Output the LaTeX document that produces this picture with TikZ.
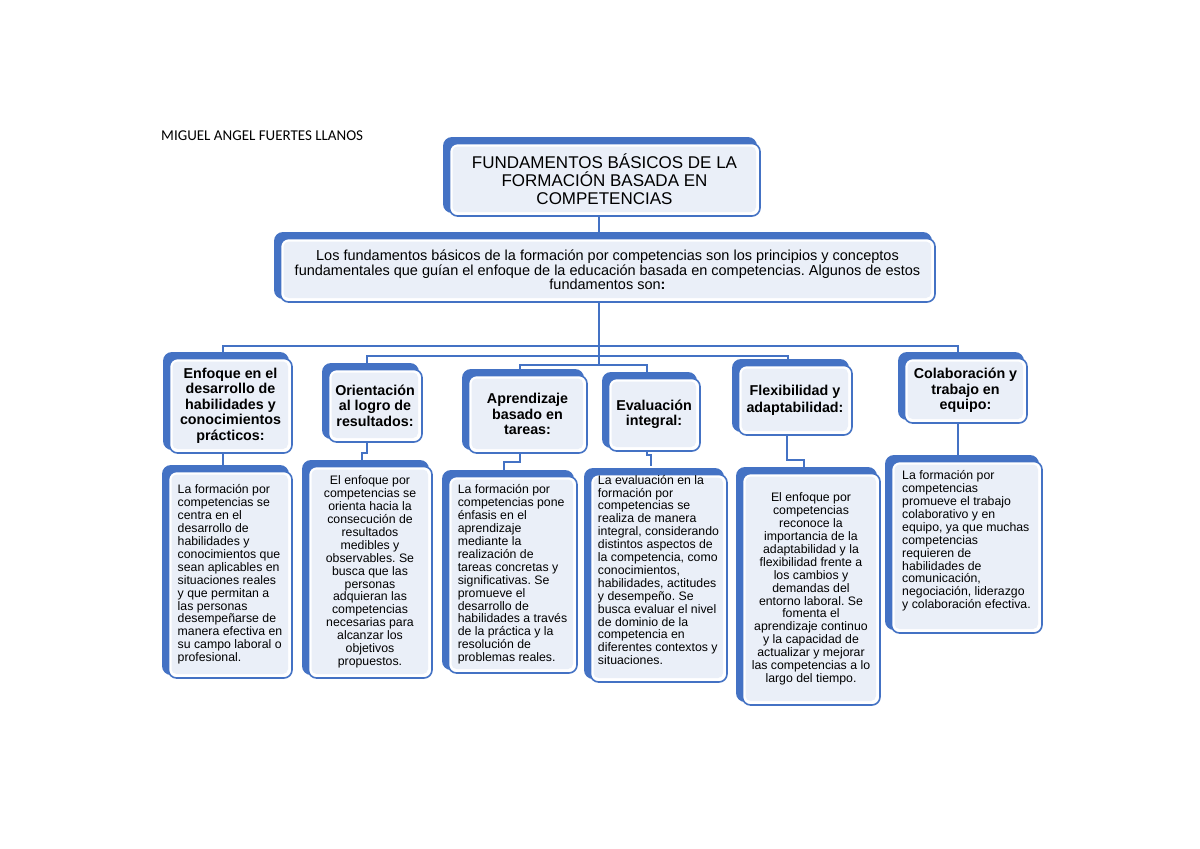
\documentclass[tikz,border=0pt]{standalone}
\usepackage{fontspec}
\setmainfont{Liberation Sans}
\newfontfamily\namefont{Carlito}
\frenchspacing
\definecolor{bblue}{HTML}{4472C4}
\definecolor{lfill}{HTML}{EAEFF8}
\newcommand{\deco}[4]{%
  \fill[bblue, rounded corners=9pt] (#1,#2) rectangle (#3-3,#4-3);
  \draw[bblue, fill=white, line width=1.6pt, rounded corners=8pt] (#1+6.5,#2+6.5) rectangle (#3,#4);
  \fill[lfill, rounded corners=5pt] (#1+9.5,#2+9.5) rectangle (#3-4,#4-4);
}
\newcommand{\bx}[7]{%
  \deco{#2}{#3}{#4}{#5}
  \node[minimum width={#4-#2-6}, minimum height={#5-#3-6}, #6] (#1) at ({(#2+6+#4)/2},{(#3+6+#5)/2}) {#7};
}
\tikzset{
  base/.style={inner sep=0pt, outer sep=0pt, rectangle},
  topbox/.style={base, align=center, font=\fontsize{17}{18}\selectfont},
  mainbox/.style={base, align=center, font=\fontsize{14.5}{14.7}\selectfont},
  headbox/.style={base, align=center, font=\fontsize{14.3}{15.5}\selectfont\bfseries},
  descl/.style={base, align=left, font=\fontsize{12.3}{12.9}\selectfont},
  descc/.style={base, align=center, font=\fontsize{12.3}{12.9}\selectfont},
  conn/.style={draw=bblue, line width=1.6pt},
}
\begin{document}
\begin{tikzpicture}[x=1pt, y=-1pt]
\fill[white] (0,0) rectangle (1200,849);
\useasboundingbox (0,0) rectangle (1200,849);

\node[anchor=base west, inner sep=0pt, font=\namefont\fontsize{15}{16}\selectfont] (author) at (161,140) {MIGUEL ANGEL FUERTES LLANOS};

\bx{top}{443}{137}{760}{216}{topbox}{FUNDAMENTOS BÁSICOS DE LA\\FORMACIÓN BASADA EN\\COMPETENCIAS}
\bx{main}{274}{232}{935}{302}{mainbox}{Los fundamentos básicos de la formación por competencias son los principios y conceptos\\fundamentales que guían el enfoque de la educación basada en competencias. Algunos de estos\\fundamentos son\textbf{:}}

\bx{h1}{163}{352}{292}{453}{headbox}{Enfoque en el\\desarrollo de\\habilidades y\\conocimientos\\prácticos:}
\bx{h2}{322}{363}{422}{442}{headbox}{Orientación\\al logro de\\resultados:}
\bx{h3}{462}{369}{587}{453}{headbox}{Aprendizaje\\basado en\\tareas:}
\bx{h4}{602}{372}{700}{451}{headbox}{Evaluación\\integral:}
\bx{h5}{732}{359}{852}{435}{headbox}{Flexibilidad y\\[1.5pt]adaptabilidad:}
\bx{h6}{898}{352}{1027}{423}{headbox}{Colaboración y\\trabajo en\\equipo:}

\bx{d1}{162}{465}{292}{678}{descl}{La formación por\\competencias se\\centra en el\\desarrollo de\\habilidades y\\conocimientos que\\sean aplicables en\\situaciones reales\\y que permitan a\\las personas\\desempeñarse de\\manera efectiva en\\su campo laboral o\\profesional.}
\bx{d2}{302}{460}{432}{678}{descc}{El enfoque por\\competencias se\\orienta hacia la\\consecución de\\resultados\\medibles y\\observables. Se\\busca que las\\personas\\adquieran las\\competencias\\necesarias para\\alcanzar los\\objetivos\\propuestos.}
\bx{d3}{442}{470}{577}{673}{descl}{La formación por\\competencias pone\\énfasis en el\\aprendizaje\\mediante la\\realización de\\tareas concretas y\\significativas. Se\\promueve el\\desarrollo de\\habilidades a través\\de la práctica y la\\resolución de\\problemas reales.}
\bx{d4}{584}{468}{727}{682}{descl, yshift=8pt}{La evaluación en la\\formación por\\competencias se\\realiza de manera\\integral, considerando\\distintos aspectos de\\la competencia, como\\conocimientos,\\habilidades, actitudes\\y desempeño. Se\\busca evaluar el nivel\\de dominio de la\\competencia en\\diferentes contextos y\\situaciones.}
\bx{d5}{736}{467}{880}{705}{descc}{El enfoque por\\competencias\\reconoce la\\importancia de la\\adaptabilidad y la\\flexibilidad frente a\\los cambios y\\demandas del\\entorno laboral. Se\\fomenta el\\aprendizaje continuo\\y la capacidad de\\actualizar y mejorar\\las competencias a lo\\largo del tiempo.}
\bx{d6}{885}{455}{1042}{633}{descl, yshift=6pt}{La formación por\\competencias\\promueve el trabajo\\colaborativo y en\\equipo, ya que muchas\\competencias\\requieren de\\habilidades de\\comunicación,\\negociación, liderazgo\\y colaboración efectiva.}

% connectors
\coordinate (tx) at (599,0);
\draw[conn] (top.south -| tx) -- (main.north -| tx);
\coordinate (b1) at (223,346);
\coordinate (b6) at (958,346);
\coordinate (b2) at (367,356);
\coordinate (b5) at (788,356);
\coordinate (b3) at (520,365);
\coordinate (b4) at (647,365);
\draw[conn] (main.south -| tx) |- (b1) -- (b1 |- h1.north);
\draw[conn] (main.south -| tx) |- (b6) -- (b6 |- h6.north);
\draw[conn] (main.south -| tx) |- (b2) -- (b2 |- h2.north);
\draw[conn] (main.south -| tx) |- (b5) -- (b5 |- h5.north);
\draw[conn] (main.south -| tx) |- (b3) -- (b3 |- h3.north);
\draw[conn] (main.south -| tx) |- (b4) -- (b4 |- h4.north);

\coordinate (e1) at (223,0);
\draw[conn] (h1.south -| e1) -- (d1.north -| e1);
\coordinate (e2a) at (367,0);
\coordinate (e2b) at (362,453);
\draw[conn] (h2.south -| e2a) |- (e2b) -- (e2b |- d2.north);
\coordinate (e3a) at (520,0);
\coordinate (e3b) at (504,462);
\draw[conn] (h3.south -| e3a) |- (e3b) -- (e3b |- d3.north);
\coordinate (e4a) at (647,0);
\coordinate (e4b) at (651,455);
\draw[conn] (h4.south -| e4a) |- (e4b) -- (e4b |- d4.north);
\coordinate (e5a) at (787,0);
\coordinate (e5b) at (804,460);
\draw[conn] (h5.south -| e5a) |- (e5b) -- (e5b |- d5.north);
\coordinate (e6) at (958,0);
\draw[conn] (h6.south -| e6) -- (d6.north -| e6);
\end{tikzpicture}
\end{document}
